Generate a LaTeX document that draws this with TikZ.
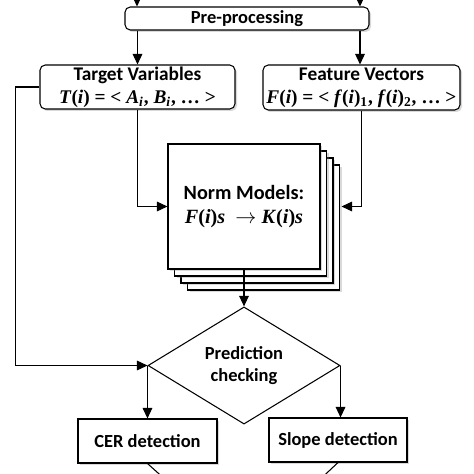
\documentclass[tikz,border=0pt]{standalone}
\usepackage{amsmath}
\usepackage{fontspec}
\setmainfont{Carlito}
\newfontfamily\formfont{Liberation Serif}
\usetikzlibrary{arrows.meta,shapes.geometric,shadows}

\tikzset{
  arr/.style={-{Triangle[length=6pt,width=5.5pt]}, line width=0.6pt},
  shad/.style={drop shadow={shadow xshift=0.04cm,shadow yshift=-0.04cm,opacity=0.3,fill=gray}},
  rbox/.style={draw, rounded corners=3pt, fill=white, line width=0.6pt, shad, font=\bfseries, align=center},
  sbox/.style={draw, fill=white, line width=0.6pt, shad, font=\bfseries, align=center},
  decision/.style={draw, diamond, fill=white, line width=0.6pt, font=\bfseries, align=center, inner sep=0pt}
}
\newcommand{\mi}[1]{{\itshape #1\/}}
\newcommand{\tvar}{{\formfont\bfseries \mi{T}(\mi{i}) = < \mi{A}\textsubscript{\mi{i}}, \mi{B}\textsubscript{\mi{i}}, \ldots\ >}}
\newcommand{\fvec}{{\formfont\bfseries \mi{F}(\mi{i}) = < \mi{f}(\mi{i})\textsubscript{1}, \mi{f}(\mi{i})\textsubscript{2}, \ldots\ >}}
\newcommand{\nmap}{{\formfont\bfseries \mi{F}(\mi{i})\mi{s}\ \ $\to$ \mi{K}(\mi{i})\mi{s}}}

\begin{document}
\begin{tikzpicture}
\useasboundingbox (0,0) rectangle (9.48,-9.48);

\node[rbox, minimum width=4.88cm, minimum height=0.46cm, inner sep=0pt, font=\bfseries\fontsize{10.5}{12}\selectfont] (pre) at (4.94,-0.37) {Pre-processing};

\node[rbox, minimum width=3.9cm, minimum height=0.88cm, inner sep=0pt, font=\bfseries\fontsize{11}{13}\selectfont] (target) at (2.75,-1.74) {Target Variables\\ \tvar};
\node[rbox, minimum width=3.94cm, minimum height=0.9cm, inner sep=0pt, font=\bfseries\fontsize{11}{13}\selectfont] (feature) at (7.23,-1.75) {Feature Vectors\\ \fvec};

% stacked norm models
\foreach \k in {3,2,1}
\node[sbox, minimum width=3.04cm, minimum height=2.5cm] (norm\k) at ({4.88+0.13*\k},{-4.13-0.14*\k}) {};
\node[sbox, minimum width=3.04cm, minimum height=2.5cm, font=\bfseries\fontsize{11.5}{13.5}\selectfont] (norm) at (4.88,-4.13) {Norm Models:\\ \nmap};

\node[decision, minimum width=3.84cm, minimum height=1.5cm, font=\bfseries\fontsize{10.5}{13}\selectfont] (check) at (4.88,-7.31) {Prediction\\checking};

\node[sbox, minimum width=2.78cm, minimum height=0.88cm, font=\bfseries\fontsize{10.5}{12}\selectfont] (cer) at (2.95,-8.82) {CER detection};
\node[sbox, minimum width=2.76cm, minimum height=0.88cm, font=\bfseries\fontsize{10.5}{12}\selectfont] (slope) at (6.76,-8.80) {Slope detection};

\coordinate (in1) at (2.74,0.4);
\coordinate (in2) at (7.2,0.4);
\coordinate (out1) at (3.45,-9.72);
\coordinate (out2) at (6.26,-9.72);

\draw[arr] (in1) -- (in1 |- pre.north);
\draw[arr] (in2) -- (in2 |- pre.north);
\draw[arr] (pre.south -| target.north) -- (target.north);
\draw[arr] (pre.south -| in2) -- (in2 |- feature.north);
\draw[arr] (target.south) |- (norm.west);
\draw[arr] (feature.south) |- ([xshift=0.42cm]norm.east);
\draw[arr] (norm.south) -- (check.north);
\draw[arr] (target.west) -- ++(-0.48,0) |- (check.west);
\draw[arr] (check.west) -- (check.west |- cer.north);
\draw[arr] (check.east) -- (check.east |- slope.north);
\draw[line width=0.6pt] (cer.south) -- (out1);
\draw[line width=0.6pt] (slope.south) -- (out2);
\end{tikzpicture}
\end{document}
